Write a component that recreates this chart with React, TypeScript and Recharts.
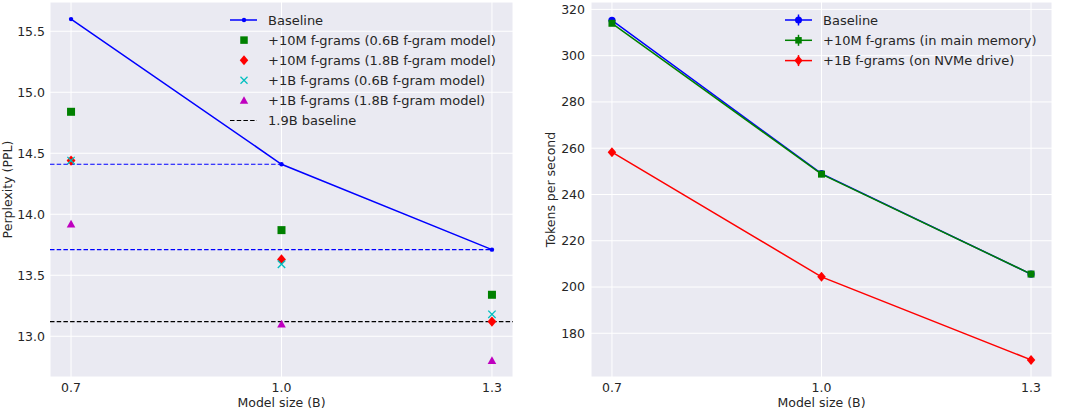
import React from 'react';
import {
  ComposedChart,
  Line,
  Scatter,
  XAxis,
  YAxis,
  CartesianGrid,
  ReferenceLine,
  Legend,
  Label,
} from 'recharts';

// ---------- data ----------
const modelSizes = [0.7, 1.0, 1.3];
const xTicks = [0.7, 1.0, 1.3];

const pplBaseline = [15.6, 14.41, 13.71];
const ppl10M06 = [14.84, 13.87, 13.34];
const ppl10M18 = [14.44, 13.63, 13.12];
const ppl1B06 = [14.44, 13.59, 13.18];
const ppl1B18 = [13.92, 13.1, 12.8];
const ppl19B = 13.12;
const pplTicks = [13.0, 13.5, 14.0, 14.5, 15.0, 15.5];

const tpsBaseline = [315.3, 249.0, 205.6];
const tps10M = [314.0, 248.8, 205.6];
const tps1B = [258.3, 204.4, 168.5];
const tpsTicks = [180, 200, 220, 240, 260, 280, 300, 320];

const leftLegendLabels = [
  'Baseline',
  '+10M f-grams (0.6B f-gram model)',
  '+10M f-grams (1.8B f-gram model)',
  '+1B f-grams (0.6B f-gram model)',
  '+1B f-grams (1.8B f-gram model)',
  '1.9B baseline',
];
const rightLegendLabels = [
  'Baseline',
  '+10M f-grams (in main memory)',
  '+1B f-grams (on NVMe drive)',
];

const xDomain: [number, number] = [0.67, 1.33];
const pplDomain: [number, number] = [12.666, 15.74];
const tpsDomain: [number, number] = [161.1, 323.2];

const pplRows = modelSizes.map((x, i) => ({
  x,
  base: pplBaseline[i],
  g: ppl10M06[i],
  r: ppl10M18[i],
  c: ppl1B06[i],
  m: ppl1B18[i],
}));
const tpsRows = modelSizes.map((x, i) => ({
  x,
  base: tpsBaseline[i],
  mem: tps10M[i],
  nvme: tps1B[i],
}));

// ---------- style ----------
const FONT = 'DejaVu Sans';
const TXT = '#262626';
const BG = '#EAEAF2';
const BLUE = '#0000ff';
const GREEN = '#008000';
const RED = '#ff0000';
const CYAN = '#00bfbf';
const MAGENTA = '#bf00bf';

const tickStyle = { fontFamily: FONT, fontSize: 12.5, fill: TXT };

// ---------- marker shapes ----------
const sq = (cx: number, cy: number, s: number, fill: string, key?: any) => (
  <rect key={key} x={cx - s / 2} y={cy - s / 2} width={s} height={s} fill={fill} />
);
const dia = (cx: number, cy: number, r: number, fill: string, key?: any) => (
  <polygon
    key={key}
    points={`${cx},${cy - r} ${cx + r * 0.85},${cy} ${cx},${cy + r} ${cx - r * 0.85},${cy}`}
    fill={fill}
  />
);
const xm = (cx: number, cy: number, r: number, stroke: string, key?: any) => (
  <g key={key}>
    <line x1={cx - r} y1={cy - r} x2={cx + r} y2={cy + r} stroke={stroke} strokeWidth={1.3} />
    <line x1={cx - r} y1={cy + r} x2={cx + r} y2={cy - r} stroke={stroke} strokeWidth={1.3} />
  </g>
);
const tri = (cx: number, cy: number, r: number, fill: string, key?: any) => (
  <polygon
    key={key}
    points={`${cx},${cy - r} ${cx + r},${cy + r * 0.8} ${cx - r},${cy + r * 0.8}`}
    fill={fill}
  />
);

const yLabel = (text: string, x: number) => (props: any) => {
  const vb = props.viewBox || {};
  const cy = (vb.y ?? 0) + (vb.height ?? 0) / 2;
  return (
    <text
      x={x}
      y={cy}
      transform={`rotate(-90 ${x} ${cy})`}
      textAnchor="middle"
      dominantBaseline="central"
      fontFamily={FONT}
      fontSize={12.5}
      fill={TXT}
    >
      {text}
    </text>
  );
};
const xLabel = (text: string, y: number) => (props: any) => {
  const vb = props.viewBox || {};
  const cx = (vb.x ?? 0) + (vb.width ?? 0) / 2;
  return (
    <text x={cx} y={y} textAnchor="middle" fontFamily={FONT} fontSize={12.5} fill={TXT}>
      {text}
    </text>
  );
};

// ---------- legends ----------
const LeftLegend = () => {
  const mx = 244;
  const tx = 268;
  const y0 = 20;
  const dy = 20.1;
  const markers = [
    (y: number) => (
      <g>
        <line x1={230} x2={257} y1={y} y2={y} stroke={BLUE} strokeWidth={1.5} />
        <circle cx={mx} cy={y} r={2.2} fill={BLUE} />
      </g>
    ),
    (y: number) => sq(mx, y, 7.5, GREEN),
    (y: number) => dia(mx, y, 5, RED),
    (y: number) => xm(mx, y, 3.5, CYAN),
    (y: number) => tri(mx, y, 4.2, MAGENTA),
    (y: number) => (
      <line x1={230} x2={257} y1={y} y2={y} stroke="#000" strokeWidth={1.2} strokeDasharray="4.5 2.2" />
    ),
  ];
  return (
    <svg width={540} height={140} style={{ display: 'block' }}>
      {leftLegendLabels.map((lab, i) => {
        const y = y0 + dy * i;
        return (
          <g key={lab}>
            {markers[i](y)}
            <text x={tx} y={y} dominantBaseline="central" fontFamily={FONT} fontSize={13} fill={TXT}>
              {lab}
            </text>
          </g>
        );
      })}
    </svg>
  );
};

const RightLegend = () => {
  const mx = 263.5;
  const tx = 288;
  const y0 = 20;
  const dy = 20.3;
  const colors = [BLUE, GREEN, RED];
  const marks = [
    (y: number) => <circle cx={mx} cy={y} r={3.5} fill={BLUE} />,
    (y: number) => sq(mx, y, 6.5, GREEN),
    (y: number) => dia(mx, y, 4.8, RED),
  ];
  return (
    <svg width={540} height={90} style={{ display: 'block' }}>
      {rightLegendLabels.map((lab, i) => {
        const y = y0 + dy * i;
        return (
          <g key={lab}>
            <line x1={250} x2={277} y1={y} y2={y} stroke={colors[i]} strokeWidth={1.5} />
            <line x1={mx} x2={mx} y1={y - 5.5} y2={y + 5.5} stroke={colors[i]} strokeWidth={1.5} />
            {marks[i](y)}
            <text x={tx} y={y} dominantBaseline="central" fontFamily={FONT} fontSize={13} fill={TXT}>
              {lab}
            </text>
          </g>
        );
      })}
    </svg>
  );
};

const fmt1 = (v: number) => v.toFixed(1);

const LeftChart = () => (
  <ComposedChart
    width={540}
    height={412}
    data={pplRows}
    margin={{ top: 2, right: 27, bottom: 0, left: 0 }}
  >
    <CartesianGrid fill={BG} stroke="#ffffff" strokeWidth={1} fillOpacity={1} />
    <XAxis
      dataKey="x"
      type="number"
      domain={xDomain}
      ticks={xTicks}
      tickFormatter={fmt1}
      axisLine={false}
      tickLine={false}
      tickSize={4}
      tickMargin={2}
      height={35}
      tick={tickStyle}
      interval={0}
    >
      <Label content={xLabel('Model size (B)', 407)} />
    </XAxis>
    <YAxis
      type="number"
      domain={pplDomain}
      ticks={pplTicks}
      tickFormatter={fmt1}
      axisLine={false}
      tickLine={false}
      tickSize={3}
      tickMargin={2}
      width={50}
      tick={tickStyle}
      interval={0}
      allowDataOverflow
    >
      <Label content={yLabel('Perplexity (PPL)', 7)} />
    </YAxis>
    <ReferenceLine
      segment={[
        { x: xDomain[0], y: pplBaseline[1] },
        { x: modelSizes[1], y: pplBaseline[1] },
      ]}
      stroke={BLUE}
      strokeWidth={1.2}
      strokeDasharray="4.5 2.2"
    />
    <ReferenceLine
      segment={[
        { x: xDomain[0], y: pplBaseline[2] },
        { x: modelSizes[2], y: pplBaseline[2] },
      ]}
      stroke={BLUE}
      strokeWidth={1.2}
      strokeDasharray="4.5 2.2"
    />
    <ReferenceLine y={ppl19B} stroke="#000000" strokeWidth={1.2} strokeDasharray="4.5 2.2" />
    <Line
      dataKey="base"
      stroke={BLUE}
      strokeWidth={1.5}
      isAnimationActive={false}
      dot={(p: any) => <circle key={`b${p.index}`} cx={p.cx} cy={p.cy} r={2.2} fill={BLUE} />}
      activeDot={false}
    />
    <Scatter
      dataKey="g"
      isAnimationActive={false}
      shape={(p: any) => sq(p.cx, p.cy, 8, GREEN)}
    />
    <Scatter
      dataKey="r"
      isAnimationActive={false}
      shape={(p: any) => dia(p.cx, p.cy, 5.2, RED)}
    />
    <Scatter
      dataKey="c"
      isAnimationActive={false}
      shape={(p: any) => xm(p.cx, p.cy, 3.7, CYAN)}
    />
    <Scatter
      dataKey="m"
      isAnimationActive={false}
      shape={(p: any) => tri(p.cx, p.cy, 4.3, MAGENTA)}
    />
    <Legend
      layout="vertical"
      align="center"
      verticalAlign="middle"
      content={() => <LeftLegend />}
      wrapperStyle={{ left: 0, top: 0, width: 540, height: 140, margin: 0, pointerEvents: 'none' }}
    />
  </ComposedChart>
);

const RightChart = () => (
  <ComposedChart
    width={540}
    height={412}
    data={tpsRows}
    margin={{ top: 2, right: 23, bottom: 0, left: 0 }}
  >
    <CartesianGrid fill={BG} stroke="#ffffff" strokeWidth={1} fillOpacity={1} />
    <XAxis
      dataKey="x"
      type="number"
      domain={xDomain}
      ticks={xTicks}
      tickFormatter={fmt1}
      axisLine={false}
      tickLine={false}
      tickSize={4}
      tickMargin={2}
      height={35}
      tick={tickStyle}
      interval={0}
    >
      <Label content={xLabel('Model size (B)', 407)} />
    </XAxis>
    <YAxis
      type="number"
      domain={tpsDomain}
      ticks={tpsTicks}
      axisLine={false}
      tickLine={false}
      tickSize={4}
      tickMargin={2}
      width={56}
      tick={tickStyle}
      interval={0}
      allowDataOverflow
    >
      <Label content={yLabel('Tokens per second', 15)} />
    </YAxis>
    <Line
      dataKey="base"
      stroke={BLUE}
      strokeWidth={1.5}
      isAnimationActive={false}
      dot={(p: any) => <circle key={`tb${p.index}`} cx={p.cx} cy={p.cy} r={3.6} fill={BLUE} />}
      activeDot={false}
    />
    <Line
      dataKey="mem"
      stroke={GREEN}
      strokeWidth={1.5}
      isAnimationActive={false}
      dot={(p: any) => sq(p.cx, p.cy, 7, GREEN, `tm${p.index}`)}
      activeDot={false}
    />
    <Line
      dataKey="nvme"
      stroke={RED}
      strokeWidth={1.5}
      isAnimationActive={false}
      dot={(p: any) => dia(p.cx, p.cy, 5, RED, `tn${p.index}`)}
      activeDot={false}
    />
    <Legend
      layout="vertical"
      align="center"
      verticalAlign="middle"
      content={() => <RightLegend />}
      wrapperStyle={{ left: 0, top: 0, width: 540, height: 90, margin: 0, pointerEvents: 'none' }}
    />
  </ComposedChart>
);

export default function App() {
  return (
    <div
      style={{
        position: 'absolute',
        left: 0,
        top: 0,
        width: 1075,
        height: 412,
        background: '#ffffff',
      }}
    >
      <div style={{ position: 'absolute', left: 0, top: 0 }}>
        <LeftChart />
      </div>
      <div style={{ position: 'absolute', left: 535, top: 0 }}>
        <RightChart />
      </div>
    </div>
  );
}
